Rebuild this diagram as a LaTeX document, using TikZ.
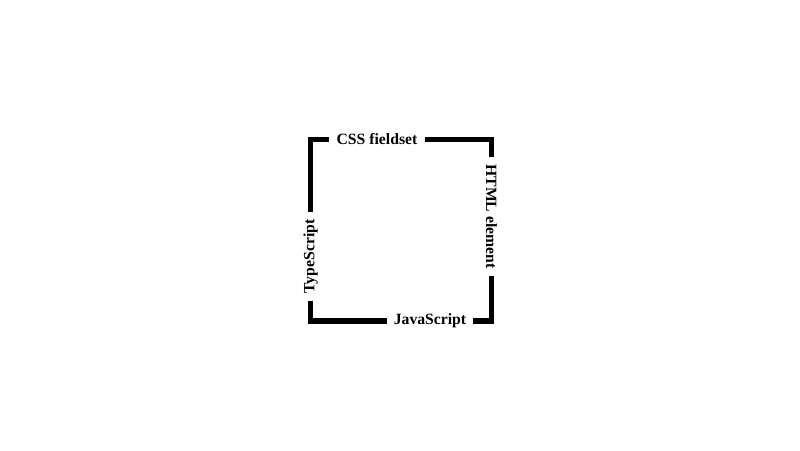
\documentclass[tikz,border=0pt]{standalone}
\usepackage{fontspec}
\setmainfont{Liberation Serif}
\begin{document}
\begin{tikzpicture}[x=1pt,y=1pt,
  lbl/.style={font=\fontsize{15.7}{18}\selectfont\bfseries, inner xsep=7pt, inner ysep=0pt, text=black},
  edge/.style={line width=5pt, black, line join=miter, line cap=butt}]
\useasboundingbox (0,0) rectangle (800,450);
\fill[white] (0,0) rectangle (800,450);
\coordinate (tl) at (310.5,310.5);
\coordinate (tr) at (491.5,310.5);
\coordinate (br) at (491.5,129);
\coordinate (bl) at (310.5,129);
\node[lbl] (css) at (377,310.5) {CSS fieldset};
\node[lbl, rotate=-90] (html) at (491.5,233.5) {HTML element};
\node[lbl] (js) at (430,129) {JavaScript};
\node[lbl, rotate=90] (ts) at (310.5,193.5) {TypeScript};
\draw[edge] (css.west) -- (tl) -- (ts.east);
\draw[edge] (ts.west) -- (bl) -- (js.west);
\draw[edge] (js.east) -- (br) -- (html.east);
\draw[edge] (html.west) -- (tr) -- (css.east);
\end{tikzpicture}
\end{document}
